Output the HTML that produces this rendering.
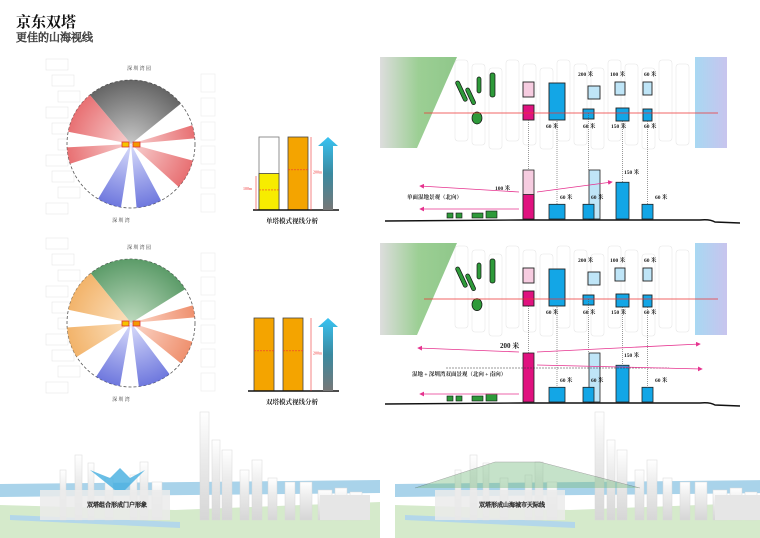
<!DOCTYPE html>
<html><head><meta charset="utf-8">
<style>
html,body{margin:0;padding:0;background:#fff;}
svg{display:block;font-family:"Liberation Serif","Noto Serif CJK SC",serif;}
</style></head>
<body>
<svg id="s" width="760" height="538" viewBox="0 0 760 538" xmlns="http://www.w3.org/2000/svg">
<defs>
  <linearGradient id="arrowG" x1="0" y1="0" x2="0" y2="1"><stop offset="0" stop-color="#39c3f2"/><stop offset="0.5" stop-color="#3a8aa0"/><stop offset="1" stop-color="#777"/></linearGradient>
  <linearGradient id="greenL" x1="0" y1="0" x2="1" y2="0"><stop offset="0" stop-color="#ddd"/><stop offset="0.5" stop-color="#9ccf94"/><stop offset="1" stop-color="#8fc78a"/></linearGradient>
  <linearGradient id="waterR" x1="0" y1="0" x2="1" y2="0"><stop offset="0" stop-color="#a8d8f2"/><stop offset="1" stop-color="#c8c4ee"/></linearGradient>
  <linearGradient id="tower" x1="0" y1="0" x2="0" y2="1"><stop offset="0" stop-color="#fff"/><stop offset="0.4" stop-color="#ececec"/><stop offset="1" stop-color="#d6d6d6"/></linearGradient>
  <marker id="ah" markerWidth="6" markerHeight="6" refX="5" refY="3" orient="auto"><path d="M0,0 L6,3 L0,6z" fill="#e6338f"/></marker>
</defs>
<text x="16" y="27" font-size="15" font-weight="bold" fill="#111">京东双塔</text>
<text x="16" y="41" font-size="11" fill="#fff" stroke="#333" stroke-width="0.6">更佳的山海视线</text>
<g id="root"></g>
</svg>
<script>
// ---- data ----
const wedges1 = [[39,130,'gray'],[130,169,'red'],[183,198,'red'],[5,17,'red'],[-42,-15,'red'],[-121,-99,'blue'],[-85,-62,'blue']];
const wedges2 = [[32,129,'green'],[129,168,'orange'],[184,212,'orange'],[5,16,'coral'],[-39,-17,'coral'],[-123,-100,'blue'],[-83,-53,'blue']];
const singleHeights = [200,100,200];
const twinHeights = [200,200];
const elevCats = ['tower','b60a','b60b','b150','b60c'];
const elevNorth = [100,60,60,150,60];
const elevGhostNorth = [200,0,200,0,0];
const elevTwin = [200,60,60,150,60];
const elevGhostTwin = [0,0,200,0,0];
const planTop = ['200 米','100 米','60 米'];
const planBot = ['60 米','60 米','150 米','60 米'];

const NS='http://www.w3.org/2000/svg';
const root=document.getElementById('root');
function el(tag,attrs,parent){const e=document.createElementNS(NS,tag);for(const k in attrs)e.setAttribute(k,attrs[k]);(parent||root).appendChild(e);return e;}
function txt(x,y,s,size,fill,parent,anchor){const t=el('text',{x:x,y:y,'font-size':size,fill:fill||'#222','text-anchor':anchor||'start'},parent);t.textContent=s;return t;}

const colors={gray:['#4a4a4a','#bdbdbd'],red:['#e4575a','#f6c9c9'],blue:['#5560d8','#d3d7fa'],green:['#3f8a4e','#b4d4b4'],orange:['#f0a650','#fbdcb6'],coral:['#ec7d55','#fbd1c1']};

function circlePanel(cx,cy,r,w,id,labelN,labelS){
  const g=el('g',{});
  
  
  for(let i=0;i<10;i++){el('rect',{x:cx-85+(i%3)*6,y:cy-85+i*16,width:22,height:11,fill:'none',stroke:'#e6e6e6','stroke-width':0.6},g);}
  for(let i=0;i<6;i++){el('rect',{x:cx+70,y:cy-70+i*24,width:14,height:18,fill:'none',stroke:'#ececec','stroke-width':0.6},g);}
  el('circle',{cx:cx,cy:cy,r:r,fill:'#fff',stroke:'#555','stroke-width':0.8,'stroke-dasharray':'3,2'},g);
  w.forEach((d,i)=>{
    const gid=id+'-g'+i;
    const lg=el('radialGradient',{id:gid,cx:cx,cy:cy,r:r,gradientUnits:'userSpaceOnUse'},document.querySelector('defs'));
    el('stop',{offset:'0','stop-color':colors[d[2]][1]},lg);
    el('stop',{offset:'1','stop-color':colors[d[2]][0]},lg);
    const a1=d[0]*Math.PI/180,a2=d[1]*Math.PI/180;
    const x1=cx+r*Math.cos(a1),y1=cy-r*Math.sin(a1),x2=cx+r*Math.cos(a2),y2=cy-r*Math.sin(a2);
    const large=(d[1]-d[0])>180?1:0;
    const p=el('path',{d:`M${cx},${cy} L${x1},${y1} A${r},${r} 0 ${large} 0 ${x2},${y2} Z`,fill:`url(#${gid})`,opacity:0.85},g);
    
    
  });
  el('rect',{x:cx-9,y:cy-2,width:7,height:5,fill:'#f5c400',stroke:'#d33','stroke-width':0.8},g);
  el('rect',{x:cx+2,y:cy-2,width:7,height:5,fill:'#f29a00',stroke:'#d33','stroke-width':0.8},g);
  txt(cx+8,cy-r-10,labelN,5,'#333',g,'middle');
  txt(cx-10,cy+r+14,labelS,5,'#333',g,'middle');
}
circlePanel(131,144,64,wedges1,'single-tower-view-circle','深 圳 湾 园','深 圳 湾');
circlePanel(131,323,64,wedges2,'twin-tower-view-circle','深 圳 湾 园','深 圳 湾');

function barChart(base,xs,hs,cols,label,lx){
  const k=0.365;const g=el('g',{});
  
  
  hs.forEach((h,i)=>{
    const b=el('rect',{x:xs[i],y:base-h*k,width:20,height:h*k,fill:cols[i],stroke:'#444','stroke-width':0.8},g);
    
    
    el('line',{x1:xs[i],x2:xs[i]+20,y1:base-h*k*0.55,y2:base-h*k*0.55,stroke:'#e33','stroke-width':0.6,'stroke-dasharray':'2,1'},g);
  });
  el('line',{x1:xs[0]-6,x2:339,y1:base,y2:base,stroke:'#111','stroke-width':1.5},g);
  el('line',{x1:311,x2:311,y1:base-200*k,y2:base,stroke:'#e33','stroke-width':0.6},g);
  txt(313,base-200*k*0.5,'200m',4,'#e33',g);
  el('path',{d:`M323,${base} L323,${base-200*k+9} L318,${base-200*k+9} L328,${base-200*k} L338,${base-200*k+9} L333,${base-200*k+9} L333,${base}Z`,fill:'url(#arrowG)'},g);
  txt(lx,base+13,label,6.5,'#222',g,'middle').setAttribute('font-weight','bold');
}
el('rect',{x:259,y:210-singleHeights[0]*0.365,width:20,height:singleHeights[0]*0.365,fill:'#fff',stroke:'#777','stroke-width':0.8});
barChart(210,[259,288],[singleHeights[1],singleHeights[2]],['#f7ec00','#f4a400'],'单塔模式视线分析',292);
txt(243,190,'100m',4,'#e33');
el('line',{x1:256,x2:256,y1:176,y2:210,stroke:'#e33','stroke-width':0.6});
barChart(391,[254,283],twinHeights,['#f4a400','#f4a400'],'双塔模式视线分析',292);

function planPanel(top,h,title,ground,north,ghost,twin){
  const g=el('g',{});
  
  
  el('rect',{x:380,y:top,width:350,height:h,fill:'#fff'},g);
  for(let i=0;i<14;i++){el('rect',{x:455+i*17,y:top+3+(i%3)*4,width:13,height:h-10,fill:'none',stroke:'#e6e6e6','stroke-width':0.6,rx:3},g);}
  el('path',{d:`M380,${top} L457,${top} L417,${top+h} L380,${top+h}Z`,fill:'url(#greenL)'},g);
  el('rect',{x:695,y:top,width:32,height:h,fill:'url(#waterR)'},g);
  [[455,top+25,4,22,-25],[465,top+32,4,18,-25],[477,top+20,4,16,0],[490,top+16,5,24,0]].forEach(p=>{el('rect',{x:p[0],y:p[1],width:p[2],height:p[3],rx:2,fill:'#2e9a3a',stroke:'#111','stroke-width':0.7,transform:`rotate(${p[4]} ${p[0]} ${p[1]})`},g);});
  el('ellipse',{cx:477,cy:top+h*0.67,rx:5,ry:6,fill:'#2e9a3a',stroke:'#111','stroke-width':0.7},g);
  const o=top-57;
  const B=[[523,82,11,15,'#f6cce0'],[523,105,11,15,'#e0127f'],[549,83,16,37,'#13a6e6'],[588,86,12,13,'#bfe5f7'],[583,109,11,10,'#13a6e6'],[615,82,10,13,'#bfe5f7'],[616,108,13,13,'#13a6e6'],[643,82,9,13,'#bfe5f7'],[643,109,9,12,'#13a6e6']];
  B.forEach(b=>{const r=el('rect',{x:b[0],y:b[1]+o,width:b[2],height:b[3],fill:b[4],stroke:'#222','stroke-width':0.9},g);});
  el('line',{x1:424,x2:718,y1:113+o,y2:113+o,stroke:'#e33','stroke-width':0.8},g);
  [578,610,644].forEach((x,i)=>txt(x,76+o,planTop[i],5.5,'#222',g).setAttribute('font-weight','bold'));
  [546,583,611,644].forEach((x,i)=>txt(x,128+o,planBot[i],5.5,'#222',g).setAttribute('font-weight','bold'));
  const k=0.245, xs=[523,549,583,616,642], ws=[11,16,11,13,11], ghostX=[523,0,589,0,0];
  el('path',{d:`M385,${ground+2} L520,${ground+1} L700,${ground+1} Q710,${ground} 715,${ground+3} L740,${ground+4}`,fill:'none',stroke:'#111','stroke-width':1.4},g);
  north.forEach((v,i)=>{
    if(ghost[i]){const gr=el('rect',{x:ghostX[i],y:ground-ghost[i]*k,width:11,height:ghost[i]*k,fill:i==0?'#f6cce0':'#bfe5f7',stroke:'#222','stroke-width':0.8},g);}
  });
  north.forEach((v,i)=>{
    const r=el('rect',{x:xs[i],y:ground-v*k,width:ws[i],height:v*k,fill:i==0?'#e0127f':'#13a6e6',stroke:'#222','stroke-width':0.8},g);
    
    
    el('line',{x1:xs[i]+ws[i]/2,x2:xs[i]+ws[i]/2,y1:(i==2?113:(i==0?120:121))+o,y2:ground-(ghost[i]||v)*k,stroke:'#555','stroke-width':0.6,'stroke-dasharray':'1,1'},g);
  });
  [[447,6,5],[456,6,5],[472,11,5],[486,11,7]].forEach(q=>el('rect',{x:q[0],y:ground-q[2]-1,width:q[1],height:q[2],fill:'#2e9a3a',stroke:'#111','stroke-width':0.6},g));
  txt(560,ground-20,'60 米',5.5,'#222',g).setAttribute('font-weight','bold');
  txt(591,ground-20,'60 米',5.5,'#222',g).setAttribute('font-weight','bold');
  txt(655,ground-20,'60 米',5.5,'#222',g).setAttribute('font-weight','bold');
  txt(624,ground-45,'150 米',5.5,'#222',g).setAttribute('font-weight','bold');
  const t=txt(twin?412:407,twin?ground-26:ground-20,title,5.5,'#222',g);t.setAttribute('font-weight','bold');
  return g;
}
const g1=planPanel(57,91,'单面湿地景观（北向）',219,elevNorth,elevGhostNorth,false);
txt(495,190,'100 米',5.5,'#222',g1).setAttribute('font-weight','bold');
el('line',{x1:519,y1:192,x2:420,y2:186,stroke:'#e6338f','stroke-width':0.8,'marker-end':'url(#ah)'},g1);
el('line',{x1:537,y1:192,x2:612,y2:182,stroke:'#e6338f','stroke-width':0.8,'marker-end':'url(#ah)'},g1);
el('line',{x1:519,y1:209,x2:420,y2:209,stroke:'#e6338f','stroke-width':0.8,'marker-end':'url(#ah)'},g1);
const g2=planPanel(243,92,'湿地 + 深圳湾双面景观（北向 + 南向）',402,elevTwin,elevGhostTwin,true);
txt(500,348,'200 米',7,'#222',g2).setAttribute('font-weight','bold');
el('line',{x1:446,x2:669,y1:368,y2:368,stroke:'#333','stroke-width':0.6,'stroke-dasharray':'2,1'},g2);
el('line',{x1:519,y1:352,x2:418,y2:348,stroke:'#e6338f','stroke-width':0.8,'marker-end':'url(#ah)'},g2);
el('line',{x1:537,y1:352,x2:700,y2:344,stroke:'#e6338f','stroke-width':0.8,'marker-end':'url(#ah)'},g2);
el('line',{x1:537,y1:365,x2:702,y2:369,stroke:'#e6338f','stroke-width':0.8,'marker-end':'url(#ah)'},g2);
el('line',{x1:519,y1:394,x2:420,y2:394,stroke:'#e6338f','stroke-width':0.8,'marker-end':'url(#ah)'},g2);

function scene(x0,label,twin){
  const g=el('g',{});
  
  
  el('path',{d:`M${x0},484 L${x0+380},480 L${x0+380},493 L${x0},497Z`,fill:'#a9d3ea'},g);
  el('path',{d:`M${x0},505 L${x0+175},510 L${x0+380},502 L${x0+380},538 L${x0},538Z`,fill:'#d5eacb'},g);
  el('path',{d:`M${x0+10},515 L${x0+180},522 L${x0+180},528 L${x0+10},520Z`,fill:'#b3d7ea'},g);
  const T=[[60,470,6],[75,455,7],[88,463,6],[105,478,8],[130,475,7],[140,462,8],[152,482,10],[200,412,9],[212,440,8],[222,450,10],[240,470,9],[252,460,10],[268,478,9],[285,482,10],[300,482,12],[318,490,14],[335,488,12],[350,492,12]];
  T.forEach(t=>{el('rect',{x:x0+t[0],y:t[1],width:t[2],height:520-t[1],fill:'url(#tower)',stroke:'#d8d8d8','stroke-width':0.5},g);});
  el('rect',{x:x0+40,y:490,width:130,height:30,fill:'#ebebeb',opacity:0.85},g);
  el('rect',{x:x0+320,y:495,width:50,height:25,fill:'#e6e6e6'},g);
  if(twin){el('path',{d:`M${x0+20},488 L${x0+100},462 L${x0+145},462 L${x0+245},488`,fill:'#7fbf88',opacity:0.45,stroke:'#333','stroke-width':0.5},g);}
  else{el('path',{d:`M${x0+90},470 L${x0+110},478 L${x0+120},468 L${x0+130},478 L${x0+145},470 L${x0+125},490 L${x0+115},490Z`,fill:'#43aee0',opacity:0.8},g);}
  const lt=txt(x0+117,507,label,6,'#fff',g,'middle');lt.setAttribute('stroke','#333');lt.setAttribute('stroke-width','0.5');
}
scene(0,'双塔组合形成门户形象',false);
scene(395,'双塔形成山海城市天际线',true);
</script>
</body></html>
